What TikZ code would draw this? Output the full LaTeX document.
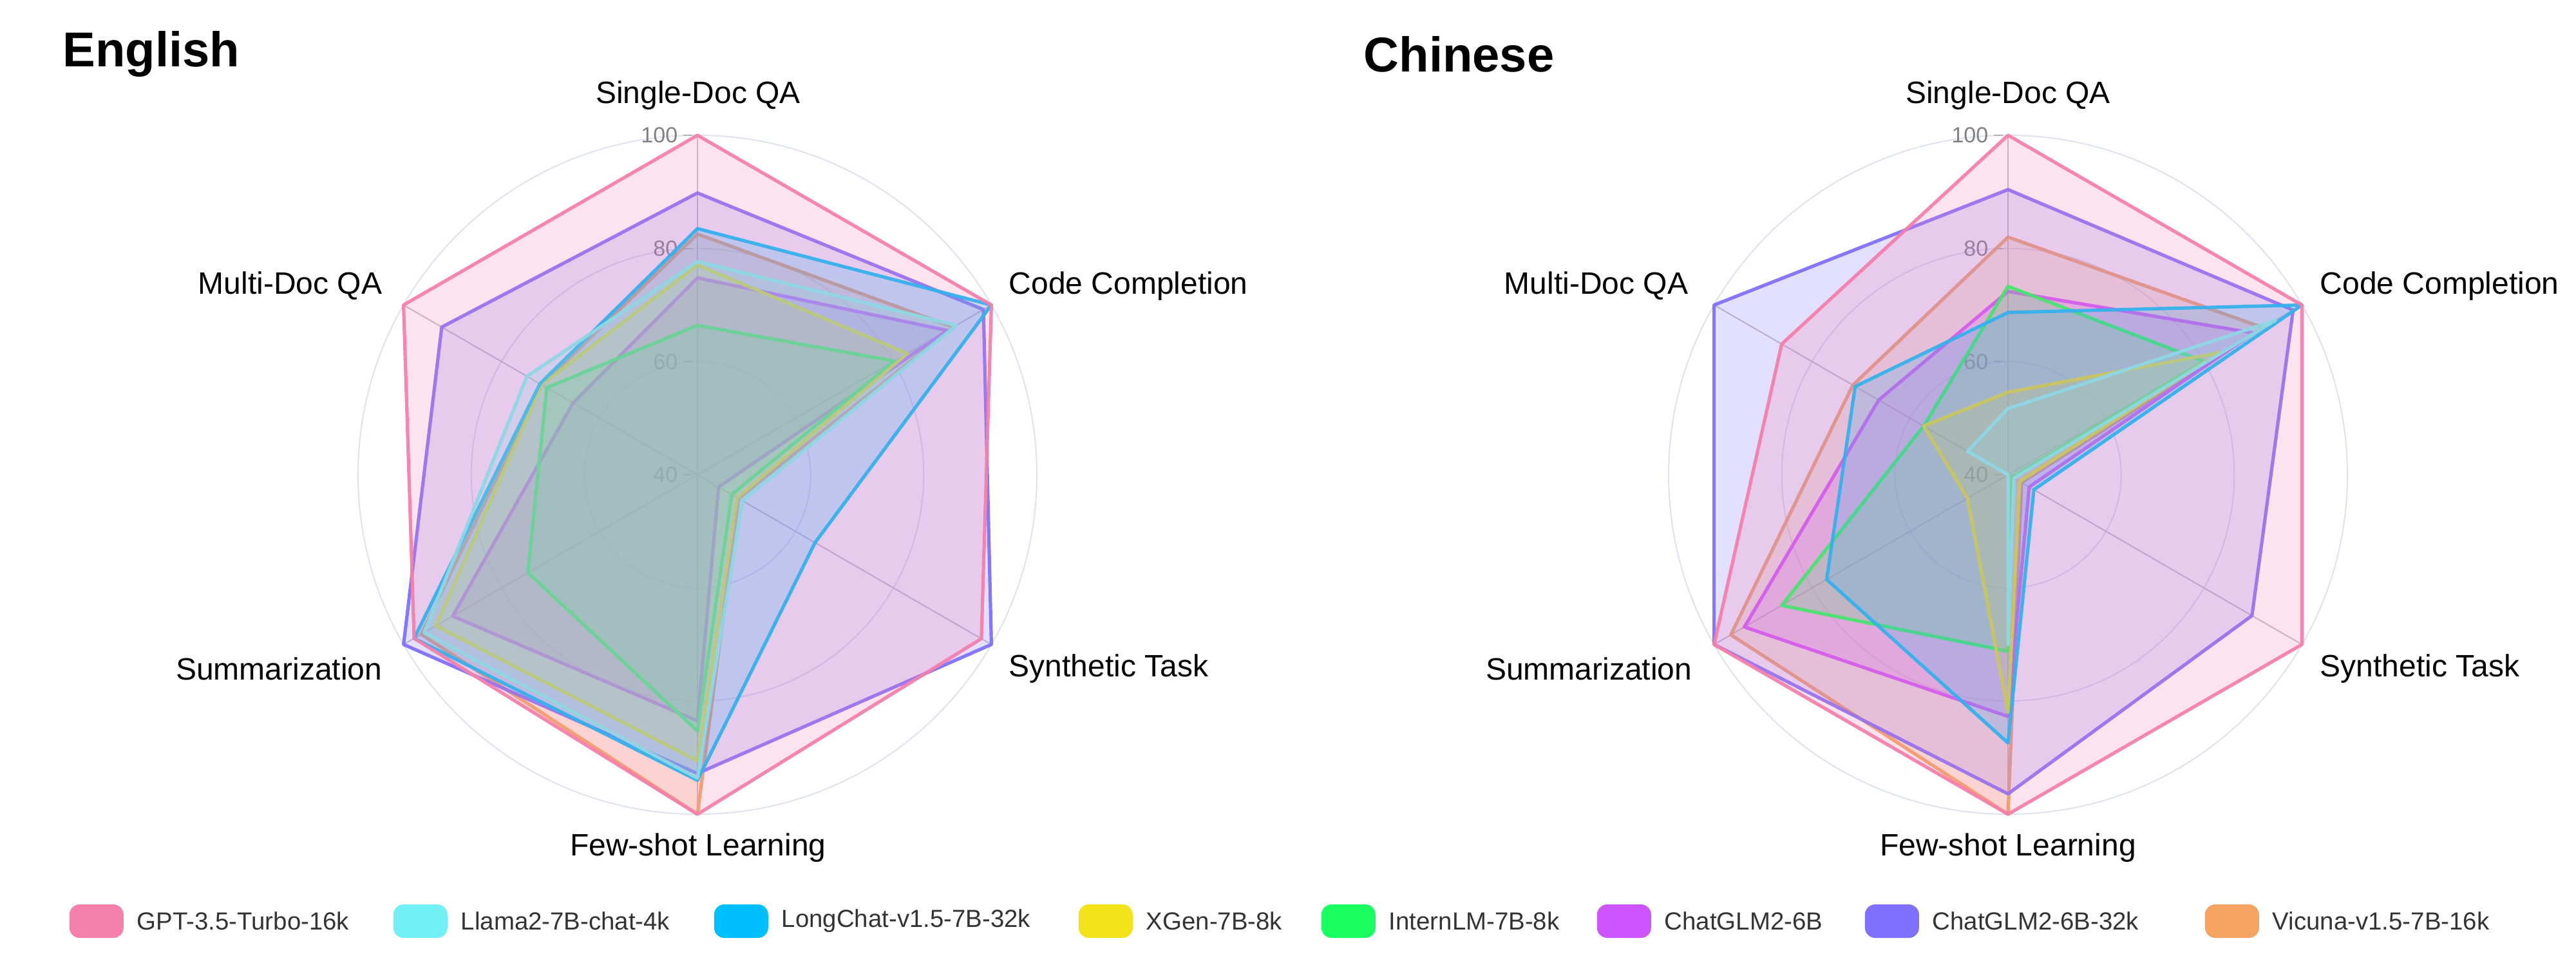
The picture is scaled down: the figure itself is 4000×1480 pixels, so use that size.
\documentclass[tikz,border=0pt]{standalone}
\usepackage{fontspec}
\setmainfont{Liberation Sans}
\definecolor{cgpt}{HTML}{F580AB}
\definecolor{cllama}{HTML}{72F0F5}
\definecolor{clong}{HTML}{00BFFF}
\definecolor{cxgen}{HTML}{F2E21A}
\definecolor{cintern}{HTML}{1AFF60}
\definecolor{cglm}{HTML}{CC55FF}
\definecolor{cglmb}{HTML}{8070FF}
\definecolor{cvic}{HTML}{F4A460}
\definecolor{gridc}{HTML}{DDE3EE}
\definecolor{spoke}{HTML}{C6C0CC}
\tikzset{
 ser/.style={draw=#1,fill=#1,fill opacity=.22,draw opacity=.95,line width=1.3pt,line join=round},
 gridline/.style={draw=gridc,line width=.5pt},
 spokeline/.style={draw=spoke,line width=.5pt},
 tick/.style={text=gray,font=\fontsize{8.5}{9}\selectfont,anchor=east,inner sep=1pt},
 axlab/.style={font=\fontsize{12}{14}\selectfont,inner sep=0pt},
 ttl/.style={font=\fontsize{19}{22}\selectfont\bfseries,anchor=west,inner sep=0pt},
 sw/.style={fill=#1,rounded corners=4pt,minimum width=21pt,minimum height=13pt,inner sep=0pt},
 leg/.style={font=\fontsize{9.6}{11}\selectfont,anchor=west,inner sep=0pt,text=black!80}
}
\newcommand\poly[8]{\begin{scope}[shift={(#2)}]\path[ser=#1] (90:{#3*527}) -- (30:{#4*527}) -- (-30:{#5*527}) -- (-90:{#6*527}) -- (210:{#7*527}) -- (150:{#8*527}) -- cycle;\end{scope}}
\newcommand\radargrid[1]{\begin{scope}[shift={(#1)}]
 \foreach \r in {175.7,351.3,527}{\draw[gridline] (0,0) circle (\r);}
 \foreach \a in {90,30,-30,-90,210,150}{\draw[spokeline] (0,0) -- (\a:527);}
 \foreach \v/\r in {40/0,60/175.7,80/351.3,100/527}{\draw[gray!60,line width=.5pt] (-22,\r) -- (-8,\r); \node[tick] at (-26,\r) {\v};}
\end{scope}}
\begin{document}
\begin{tikzpicture}[x=0.25pt,y=0.25pt]
\useasboundingbox (0,0) rectangle (4000,1480);
\coordinate (E) at (1083,743);
\coordinate (C) at (3118,743);
\radargrid{E}
\radargrid{C}
% English
\poly{cvic}{E}{.709}{.87}{.14}{1}{.94}{.53}
\poly{cglmb}{E}{.83}{.973}{1}{.88}{1}{.87}
\poly{cglm}{E}{.58}{.85}{.072}{.725}{.833}{.423}
\poly{cintern}{E}{.44}{.67}{.117}{.755}{.577}{.513}
\poly{cxgen}{E}{.618}{.714}{.135}{.843}{.89}{.53}
\poly{clong}{E}{.725}{1}{.40}{.90}{.964}{.536}
\poly{cllama}{E}{.628}{.88}{.153}{.894}{.93}{.58}
\poly{cgpt}{E}{1}{1}{.966}{1}{.964}{1}
% Chinese
\poly{cvic}{C}{.70}{.867}{.046}{1}{.943}{.528}
\poly{cglmb}{C}{.84}{.97}{.83}{.94}{1}{1}
\poly{cglm}{C}{.54}{.835}{.072}{.712}{.897}{.44}
\poly{cintern}{C}{.555}{.667}{.015}{.52}{.77}{.287}
\poly{cxgen}{C}{.243}{.72}{.04}{.70}{.138}{.287}
\poly{clong}{C}{.478}{1}{.088}{.79}{.617}{.52}
\poly{cllama}{C}{.195}{.91}{.02}{.5}{0}{.138}
\poly{cgpt}{C}{1}{1}{1}{1}{1}{.77}
% axis labels
\node[axlab] (e1) at (1084,1332) {Single-Doc QA};
\node[axlab,anchor=west] (e2) at (1566,1036) {Code Completion};
\node[axlab,anchor=west] (e3) at (1566,442) {Synthetic Task};
\node[axlab] (e4) at (1084,164) {Few-shot Learning};
\node[axlab,anchor=east] (e5) at (594,442) {Summarization};
\node[axlab,anchor=east] (e6) at (594,1036) {Multi-Doc QA};
\node[axlab] (c1) at (3118,1332) {Single-Doc QA};
\node[axlab,anchor=west] (c2) at (3602,1036) {Code Completion};
\node[axlab,anchor=west] (c3) at (3602,442) {Synthetic Task};
\node[axlab] (c4) at (3118,164) {Few-shot Learning};
\node[axlab,anchor=east] (c5) at (2628,442) {Summarization};
\node[axlab,anchor=east] (c6) at (2622,1036) {Multi-Doc QA};
\node[ttl] (t1) at (97,1396) {English};
\node[ttl] (t2) at (2117,1396) {Chinese};
% legend
\foreach \x/\c/\t [count=\i] in {107/cgpt/GPT-3.5-Turbo-16k,610/cllama/Llama2-7B-chat-4k,1108/clong/LongChat-v1.5-7B-32k,1674/cxgen/XGen-7B-8k,2051/cintern/InternLM-7B-8k,2479/cglm/ChatGLM2-6B,2895/cglmb/ChatGLM2-6B-32k,3423/cvic/Vicuna-v1.5-7B-16k}{
 \node[sw=\c,anchor=west] (s\i) at (\x,50) {};
 \node[leg] (l\i) at (\x+105,50) {\t};
}
\end{tikzpicture}
\end{document}
